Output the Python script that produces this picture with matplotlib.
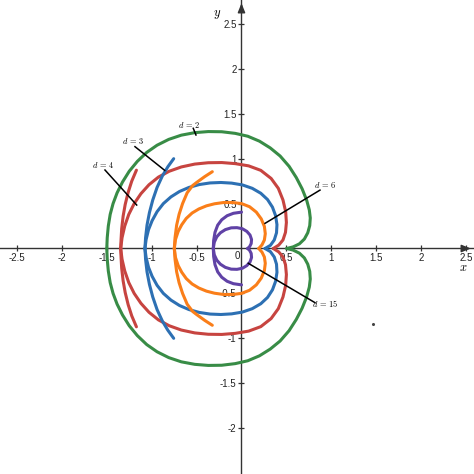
import matplotlib
matplotlib.use("Agg")
import matplotlib.pyplot as plt

plt.rcParams['font.family'] = ['Liberation Sans', 'DejaVu Sans']
plt.rcParams['mathtext.fontset'] = 'cm'

# upper halves of the curves (lower halves are mirror images)
green_x = [-1.500, -1.495, -1.483, -1.462, -1.430, -1.385, -1.325, -1.250, -1.160, -1.055, -0.940,
           -0.810, -0.670, -0.520, -0.370, -0.220, -0.070, 0.070, 0.200, 0.320, 0.430, 0.530, 0.610,
           0.675, 0.725, 0.755, 0.766, 0.760, 0.738, 0.700, 0.645, 0.575, 0.503]
green_y = [0.000, 0.120, 0.250, 0.380, 0.500, 0.620, 0.740, 0.860, 0.970, 1.070, 1.150,
           1.215, 1.262, 1.290, 1.302, 1.300, 1.282, 1.250, 1.195, 1.120, 1.030, 0.915, 0.790,
           0.665, 0.540, 0.430, 0.340, 0.255, 0.175, 0.105, 0.052, 0.018, 0.000]

red_arc_x = [-1.345, -1.341, -1.334, -1.318, -1.295, -1.262, -1.222, -1.170]
red_arc_y = [0.000, 0.100, 0.220, 0.360, 0.490, 0.625, 0.750, 0.872]
red_x = [-1.345, -1.330, -1.300, -1.255, -1.195, -1.120, -1.030, -0.925, -0.805, -0.670, -0.520,
         -0.370, -0.220, -0.070, 0.080, 0.215, 0.330, 0.410, 0.462, 0.492, 0.500, 0.490, 0.462,
         0.415, 0.354]
red_y = [0.000, 0.120, 0.250, 0.380, 0.500, 0.610, 0.710, 0.795, 0.860, 0.908, 0.940,
         0.955, 0.957, 0.945, 0.920, 0.870, 0.780, 0.670, 0.540, 0.410, 0.290, 0.180, 0.095,
         0.038, 0.000]

blue_arc_x = [-1.075, -1.068, -1.052, -1.025, -0.988, -0.940, -0.880, -0.820, -0.755]
blue_arc_y = [0.000, 0.120, 0.260, 0.400, 0.540, 0.680, 0.810, 0.910, 1.000]
blue_x = [-1.075, -1.062, -1.035, -0.995, -0.940, -0.870, -0.785, -0.690, -0.585, -0.470, -0.350,
          -0.230, -0.110, 0.010, 0.120, 0.215, 0.290, 0.345, 0.380, 0.395, 0.390, 0.365, 0.322, 0.262]
blue_y = [0.000, 0.100, 0.210, 0.310, 0.410, 0.500, 0.575, 0.635, 0.680, 0.712, 0.730,
          0.735, 0.728, 0.708, 0.670, 0.615, 0.545, 0.460, 0.365, 0.265, 0.175, 0.095, 0.035, 0.000]

orange_arc_x = [-0.748, -0.740, -0.722, -0.695, -0.656, -0.605, -0.545, -0.500, -0.410, -0.325]
orange_arc_y = [0.000, 0.120, 0.260, 0.380, 0.500, 0.620, 0.700, 0.735, 0.800, 0.855]
orange_x = [-0.748, -0.735, -0.705, -0.665, -0.615, -0.550, -0.475, -0.390, -0.300, -0.200, -0.100,
            0.000, 0.090, 0.165, 0.220, 0.255, 0.265, 0.255, 0.228, 0.192]
orange_y = [0.000, 0.100, 0.190, 0.265, 0.335, 0.395, 0.440, 0.475, 0.498, 0.512, 0.512,
            0.500, 0.465, 0.405, 0.330, 0.245, 0.165, 0.095, 0.040, 0.000]

purple_arc_x = [-0.314, -0.310, -0.295, -0.265, -0.220, -0.160, -0.090, 0.000]
purple_arc_y = [0.000, 0.090, 0.180, 0.260, 0.320, 0.365, 0.392, 0.405]
purple_x = [-0.314, -0.303, -0.275, -0.235, -0.180, -0.115, -0.050, 0.010, 0.060, 0.095, 0.112,
            0.108, 0.090, 0.068]
purple_y = [0.000, 0.070, 0.130, 0.175, 0.210, 0.230, 0.232, 0.220, 0.190, 0.150, 0.100,
            0.055, 0.020, 0.000]

# labels: text, label position, pointer start, pointer end
d_labels = ["$d\\,=\\,2$", "$d\\,=\\,3$", "$d\\,=\\,4$", "$d\\,=\\,6$", "$d\\,=\\,15$"]
label_pos = [(-0.59, 1.375), (-1.205, 1.197), (-1.54, 0.93), (0.93, 0.707), (0.93, -0.618)]
ptr_start = [(-0.537, 1.338), (-1.186, 1.134), (-1.52, 0.874), (0.874, 0.65), (0.818, -0.603)]
ptr_end = [(-0.507, 1.264), (-0.855, 0.87), (-1.167, 0.484), (0.262, 0.28), (0.076, -0.165)]

xticks = [-2.5, -2, -1.5, -1, -0.5, 0.5, 1, 1.5, 2, 2.5]
yticks = [-2, -1.5, -1, -0.5, 0.5, 1, 1.5, 2, 2.5]

GREEN = "#388c46"
RED = "#c74440"
BLUE = "#2d70b3"
ORANGE = "#fa7e19"
PURPLE = "#6042a6"


def both_halves(ax, xs, ys, color):
    ax.plot(xs, ys, color=color, lw=2.2, solid_capstyle='round', solid_joinstyle='round', zorder=3)
    ax.plot(xs, [-v for v in ys], color=color, lw=2.2, solid_capstyle='round',
            solid_joinstyle='round', zorder=3)


def main():
    fig = plt.figure(figsize=(4.74, 4.74), dpi=100)
    ax = fig.add_axes([0, 0, 1, 1])
    ax.set_xlim(-2.689, 2.589)
    ax.set_ylim(-2.511, 2.767)

    for s in ['top', 'right']:
        ax.spines[s].set_visible(False)
    ax.spines['left'].set_position(('data', 0))
    ax.spines['bottom'].set_position(('data', 0))
    for s in ['left', 'bottom']:
        ax.spines[s].set_color('#333333')
        ax.spines[s].set_linewidth(1.0)

    ax.set_xticks(xticks)
    ax.set_xticklabels([("%g" % v) for v in xticks])
    ax.set_yticks(yticks)
    ax.set_yticklabels([("%g" % v) for v in yticks])
    ax.tick_params(direction='inout', length=4, width=0.9, color='#333333',
                   labelsize=7, labelcolor='#222222')
    ax.tick_params(axis='x', pad=1.5)
    ax.tick_params(axis='y', pad=1.5)
    ax.text(-0.05, -0.08, "0", fontsize=7, color='#222222', ha='center', va='center')

    # arrow heads
    ax.annotate('', xy=(2.585, 0), xytext=(2.45, 0),
                arrowprops=dict(arrowstyle='-|>,head_length=0.4,head_width=0.16',
                                color='#333333', lw=1.0, mutation_scale=14))
    ax.annotate('', xy=(0, 2.763), xytext=(0, 2.6),
                arrowprops=dict(arrowstyle='-|>,head_length=0.4,head_width=0.16',
                                color='#333333', lw=1.0, mutation_scale=14))
    ax.text(2.47, -0.22, "$x$", fontsize=9, ha='center', va='center')
    ax.text(-0.276, 2.61, "$y$", fontsize=9, ha='center', va='center')

    both_halves(ax, green_x, green_y, GREEN)
    both_halves(ax, red_arc_x, red_arc_y, RED)
    both_halves(ax, red_x, red_y, RED)
    both_halves(ax, blue_arc_x, blue_arc_y, BLUE)
    both_halves(ax, blue_x, blue_y, BLUE)
    both_halves(ax, orange_arc_x, orange_arc_y, ORANGE)
    both_halves(ax, orange_x, orange_y, ORANGE)
    both_halves(ax, purple_arc_x, purple_arc_y, PURPLE)
    both_halves(ax, purple_x, purple_y, PURPLE)

    for txt, pos, p0, p1 in zip(d_labels, label_pos, ptr_start, ptr_end):
        ax.plot([p0[0], p1[0]], [p0[1], p1[1]], color='black', lw=1.1, zorder=4)
        ax.text(pos[0], pos[1], txt, fontsize=6, ha='center', va='center', zorder=5)

    ax.plot([1.468], [-0.84], 'o', color='#444444', markersize=1.2)

    fig.savefig("out.png", dpi=100)


if __name__ == "__main__":
    main()
